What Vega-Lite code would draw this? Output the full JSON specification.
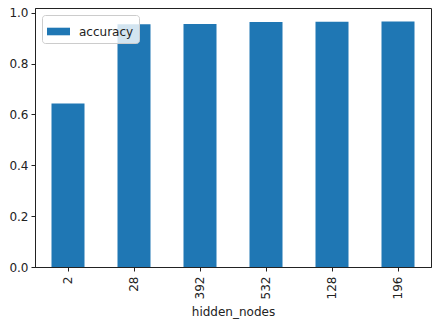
{
  "$schema": "https://vega.github.io/schema/vega-lite/v6.json",
  "autosize": {"type": "none"},
  "padding": {"left": 35, "top": 8, "right": 8, "bottom": 56},
  "width": 396,
  "height": 259,
  "background": "white",
  "config": {
    "font": "DejaVu Sans",
    "view": {"stroke": "#222", "strokeWidth": 1},
    "axis": {
      "labelFont": "DejaVu Sans",
      "titleFont": "DejaVu Sans",
      "labelFontSize": 12,
      "titleFontSize": 12,
      "labelColor": "#222",
      "titleColor": "#222",
      "titleFontWeight": "normal",
      "domainColor": "#222",
      "tickColor": "#222",
      "tickSize": 4,
      "labelPadding": 3,
      "grid": false
    }
  },
  "data": {
    "values": [
      {"hidden_nodes": "2", "accuracy": 0.643},
      {"hidden_nodes": "28", "accuracy": 0.955},
      {"hidden_nodes": "392", "accuracy": 0.956},
      {"hidden_nodes": "532", "accuracy": 0.963},
      {"hidden_nodes": "128", "accuracy": 0.964},
      {"hidden_nodes": "196", "accuracy": 0.965}
    ]
  },
  "mark": {"type": "bar", "color": "#1f77b4"},
  "encoding": {
    "x": {
      "field": "hidden_nodes",
      "type": "nominal",
      "sort": null,
      "scale": {"paddingInner": 0.5, "paddingOuter": 0.25},
      "axis": {"labelAngle": -90, "title": "hidden_nodes", "titlePadding": 8, "labelPadding": 5, "labelBaseline": "middle"}
    },
    "y": {
      "field": "accuracy",
      "type": "quantitative",
      "scale": {"domain": [0, 1.0185], "nice": false},
      "axis": {"values": [0, 0.2, 0.4, 0.6, 0.8, 1.0], "format": ".1f", "title": null}
    },
    "color": {
      "datum": "accuracy",
      "type": "nominal",
      "scale": {"range": ["#1f77b4"]},
      "legend": {
        "title": null,
        "orient": "none",
        "legendX": 7,
        "legendY": 7,
        "fillColor": "rgba(255,255,255,0.8)",
        "strokeColor": "#cccccc",
        "cornerRadius": 3,
        "padding": 5,
        "symbolType": "M-1,-0.33H1V0.33H-1Z",
        "symbolSize": 529,
        "symbolStrokeWidth": 0,
        "symbolOpacity": 1,
        "labelFontSize": 12,
        "labelFont": "DejaVu Sans",
        "labelColor": "#222",
        "labelOffset": 9
      }
    }
  }
}
